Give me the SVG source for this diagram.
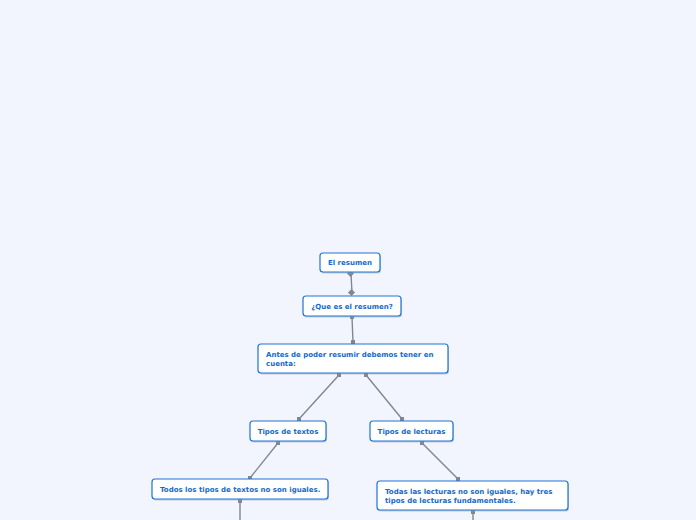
<svg xmlns="http://www.w3.org/2000/svg" width="696" height="520" viewBox="0 0 696 520">
<style>
.n rect{fill:#fff;stroke:#1c74d8;stroke-width:1.2}
.n .s{fill:#9aa4b8;stroke:none;opacity:.5}
text{font-family:"DejaVu Sans",sans-serif;font-size:7px;font-weight:bold;fill:#1469c9}
.c line{stroke:#7f8794;stroke-width:1.4}
.c rect{fill:#7f8794}
</style>
<rect width="696" height="520" fill="#f2f5fe"/>
<g class="c">
<line x1="351" y1="274" x2="352" y2="293"/>
<rect x="348" y="271" width="5" height="5" transform="rotate(45 350.5 273.5)"/>
<rect x="349" y="290" width="5" height="5" transform="rotate(45 351.5 292.5)"/>
<line x1="352" y1="317" x2="353" y2="342"/>
<rect x="350" y="315" width="4" height="4"/><rect x="351" y="340" width="4" height="4"/>
<line x1="339" y1="375" x2="299" y2="419"/>
<rect x="337" y="373" width="4" height="4"/><rect x="297" y="417" width="4" height="4"/>
<line x1="366" y1="375" x2="402" y2="419"/>
<rect x="364" y="373" width="4" height="4"/><rect x="400" y="417" width="4" height="4"/>
<line x1="278" y1="443" x2="250" y2="478"/>
<rect x="276" y="441" width="4" height="4"/><rect x="248" y="476" width="4" height="4"/>
<line x1="422" y1="443" x2="458" y2="479"/>
<rect x="420" y="441" width="4" height="4"/><rect x="456" y="477" width="4" height="4"/>
<line x1="240" y1="501" x2="240" y2="520"/>
<rect x="238" y="499" width="4" height="4"/>
<line x1="473" y1="512" x2="473" y2="520"/>
<rect x="471" y="510" width="4" height="4"/>
</g>
<g id="n1" class="n"><rect class="s" x="321" y="254.5" width="60" height="19" rx="3"/><rect x="320" y="253" width="60" height="19" rx="3"/><text x="350" y="265" text-anchor="middle">El resumen</text></g>
<g id="n2" class="n"><rect class="s" x="304" y="297.5" width="98" height="20" rx="3"/><rect x="303" y="296" width="98" height="20" rx="3"/><text x="352" y="308.5" text-anchor="middle">¿Que es el resumen?</text></g>
<g id="n3" class="n"><rect class="s" x="259" y="345.5" width="190" height="29" rx="3"/><rect x="258" y="344" width="190" height="29" rx="3"/><text x="266" y="357">Antes de poder resumir debemos tener en</text><text x="266" y="365.5">cuenta:</text></g>
<g id="n4" class="n"><rect class="s" x="251" y="422.5" width="76" height="20" rx="3"/><rect x="250" y="421" width="76" height="20" rx="3"/><text x="288" y="433.5" text-anchor="middle">Tipos de textos</text></g>
<g id="n5" class="n"><rect class="s" x="371" y="422.5" width="83" height="20" rx="3"/><rect x="370" y="421" width="83" height="20" rx="3"/><text x="411.5" y="433.5" text-anchor="middle">Tipos de lecturas</text></g>
<g id="n6" class="n"><rect class="s" x="153" y="480.5" width="176" height="20" rx="3"/><rect x="152" y="479" width="176" height="20" rx="3"/><text x="160" y="491.5">Todos los tipos de textos no son iguales.</text></g>
<g id="n7" class="n"><rect class="s" x="378" y="482.5" width="191" height="29" rx="3"/><rect x="377" y="481" width="191" height="29" rx="3"/><text x="385" y="494">Todas las lecturas no son iguales, hay tres</text><text x="385" y="502.5">tipos de lecturas fundamentales.</text></g>
</svg>
